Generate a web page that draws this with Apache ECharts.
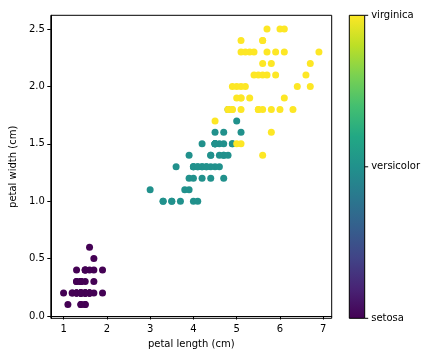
<!DOCTYPE html>
<html><head><meta charset="utf-8">
<script src="https://cdn.jsdelivr.net/npm/echarts@6/dist/echarts.min.js"></script>
<style>html,body{margin:0;padding:0;background:#fff}#c{width:432px;height:360px}</style>
</head><body><div id="c"></div>
<script>
const speciesNames = ['setosa', 'versicolor', 'virginica'];
const speciesColors = ['#440154', '#21918c', '#fde725'];
const setosaLength = [1.4,1.4,1.3,1.5,1.4,1.7,1.4,1.5,1.4,1.5,1.5,1.6,1.4,1.1,1.2,1.5,1.3,1.4,1.7,1.5,1.7,1.5,1.0,1.7,1.9,1.6,1.6,1.5,1.4,1.6,1.6,1.5,1.5,1.4,1.5,1.2,1.3,1.4,1.3,1.5,1.3,1.3,1.3,1.6,1.9,1.4,1.6,1.4,1.5,1.4];
const setosaWidth = [0.2,0.2,0.2,0.2,0.2,0.4,0.3,0.2,0.2,0.1,0.2,0.2,0.1,0.1,0.2,0.4,0.4,0.3,0.3,0.3,0.2,0.4,0.2,0.5,0.2,0.2,0.4,0.2,0.2,0.2,0.2,0.4,0.1,0.2,0.2,0.2,0.2,0.1,0.2,0.2,0.3,0.3,0.2,0.6,0.4,0.3,0.2,0.2,0.2,0.2];
const versicolorLength = [4.7,4.5,4.9,4.0,4.6,4.5,4.7,3.3,4.6,3.9,3.5,4.2,4.0,4.7,3.6,4.4,4.5,4.1,4.5,3.9,4.8,4.0,4.9,4.7,4.3,4.4,4.8,5.0,4.5,3.5,3.8,3.7,3.9,5.1,4.5,4.5,4.7,4.4,4.1,4.0,4.4,4.6,4.0,3.3,4.2,4.2,4.2,4.3,3.0,4.1];
const versicolorWidth = [1.4,1.5,1.5,1.3,1.5,1.3,1.6,1.0,1.3,1.4,1.0,1.5,1.0,1.4,1.3,1.4,1.5,1.0,1.5,1.1,1.8,1.3,1.5,1.2,1.3,1.4,1.4,1.7,1.5,1.0,1.1,1.0,1.2,1.6,1.5,1.6,1.5,1.3,1.3,1.3,1.2,1.4,1.2,1.0,1.3,1.2,1.3,1.3,1.1,1.3];
const virginicaLength = [6.0,5.1,5.9,5.6,5.8,6.6,4.5,6.3,5.8,6.1,5.1,5.3,5.5,5.0,5.1,5.3,5.5,6.7,6.9,5.0,5.7,4.9,6.7,4.9,5.7,6.0,4.8,4.9,5.6,5.8,6.1,6.4,5.6,5.1,5.6,6.1,5.6,5.5,4.8,5.4,5.6,5.1,5.1,5.9,5.7,5.2,5.0,5.2,5.4,5.1];
const virginicaWidth = [2.5,1.9,2.1,1.8,2.2,2.1,1.7,1.8,1.8,2.5,2.0,1.9,2.1,2.0,2.4,2.3,1.8,2.2,2.3,1.5,2.3,2.0,2.0,1.8,2.1,1.8,1.8,1.8,2.1,1.6,1.9,2.0,2.2,1.5,1.4,2.3,2.4,1.8,1.8,2.1,2.4,2.3,1.9,2.3,2.5,2.3,1.9,2.0,2.3,1.8];
const xTicks = [1,2,3,4,5,6,7];
const yTicks = [0,0.5,1.0,1.5,2.0,2.5];
const viridisStops = ['#440154','#482475','#414487','#355f8d','#2a788e','#21918c','#22a884','#44bf70','#7ad151','#bddf26','#fde725'];

const lengths = [setosaLength, versicolorLength, virginicaLength];
const widths = [setosaWidth, versicolorWidth, virginicaWidth];

const font = 'DejaVu Sans';
const G = {left: 48.3, right: 100.3, top: 15.3, bottom: 41.7};
const cb = {x: 349.3, y: 15.3, w: 15.4, h: 303};

const chart = echarts.init(document.getElementById('c'), null, {renderer: 'canvas'});
const graphics = [
  {type: 'rect', shape: {x: cb.x, y: cb.y, width: cb.w, height: cb.h},
   style: {fill: new echarts.graphic.LinearGradient(0, 1, 0, 0,
     viridisStops.map((c, i) => ({offset: i / (viridisStops.length - 1), color: c}))),
     stroke: '#000', lineWidth: 1}, z: 10}
];
speciesNames.forEach((n, i) => {
  const y = cb.y + cb.h * (1 - i / 2);
  graphics.push({type: 'line', shape: {x1: cb.x + cb.w, y1: y, x2: cb.x + cb.w + 3.5, y2: y},
    style: {stroke: '#000', lineWidth: 1}, z: 10});
  graphics.push({type: 'text', x: cb.x + cb.w + 6.5, y: y,
    style: {text: n, font: '10px "' + font + '"', fill: '#000', textVerticalAlign: 'middle', textAlign: 'left'}, z: 10});
});

chart.setOption({
  animation: false,
  backgroundColor: '#fff',
  grid: {left: G.left, right: G.right, top: G.top, bottom: G.bottom, show: true, borderColor: '#000', borderWidth: 1, backgroundColor: 'transparent'},
  xAxis: {
    type: 'value', min: 0.705, max: 7.195,
    name: 'petal length (cm)', nameLocation: 'middle', nameGap: 20,
    nameTextStyle: {fontFamily: font, fontSize: 10, color: '#000'},
    axisLine: {show: true, lineStyle: {color: '#000', width: 1}},
    axisTick: {show: true, inside: false, length: 3.5, customValues: xTicks, lineStyle: {color: '#000'}},
    axisLabel: {customValues: xTicks, margin: 6, fontFamily: font, fontSize: 10, color: '#000', formatter: v => String(v)},
    splitLine: {show: false}
  },
  yAxis: {
    type: 'value', min: -0.02, max: 2.62,
    name: 'petal width (cm)', nameLocation: 'middle', nameGap: 28,
    nameTextStyle: {fontFamily: font, fontSize: 10, color: '#000'},
    axisLine: {show: true, lineStyle: {color: '#000', width: 1}},
    axisTick: {show: true, inside: false, length: 3.5, customValues: yTicks, lineStyle: {color: '#000'}},
    axisLabel: {customValues: yTicks, margin: 6, fontFamily: font, fontSize: 10, color: '#000', formatter: v => v.toFixed(1)},
    splitLine: {show: false}
  },
  series: speciesNames.map((n, i) => ({
    name: n, type: 'scatter', symbol: 'circle', symbolSize: 7,
    itemStyle: {color: speciesColors[i], opacity: 1},
    data: lengths[i].map((v, j) => [v, widths[i][j]])
  })),
  graphic: graphics
});
</script></body></html>
